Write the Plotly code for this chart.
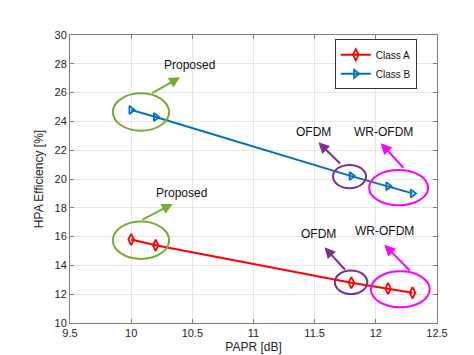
import plotly.graph_objects as go

papr = [10.0, 10.2, 11.8, 12.1, 12.3]
eff_a = [15.8, 15.4, 12.8, 12.4, 12.1]
eff_b = [24.8, 24.3, 20.2, 19.5, 19.0]

# ellipses: (x0, x1, y0, y1, color)
ellipses = [
    (9.85, 10.31, 23.35, 25.95, "#77AC30"),
    (9.85, 10.31, 14.45, 17.05, "#77AC30"),
    (11.65, 11.92, 19.36, 20.98, "#7E2F8E"),
    (11.665, 11.93, 12.01, 13.65, "#7E2F8E"),
    (11.945, 12.427, 18.17, 20.63, "#FF00FF"),
    (11.96, 12.44, 11.09, 13.59, "#FF00FF"),
]
# arrows: (tail_x, tail_y, head_x, head_y, color)
arrows = [
    (10.16, 25.9, 10.40, 27.07, "#77AC30"),
    (10.08, 17.13, 10.34, 18.27, "#77AC30"),
    (11.72, 20.98, 11.53, 22.55, "#7E2F8E"),
    (11.76, 13.59, 11.58, 15.26, "#7E2F8E"),
    (12.237, 20.68, 12.04, 22.48, "#FF00FF"),
    (12.29, 13.54, 12.07, 15.43, "#FF00FF"),
]
labels = [
    (10.48, 27.9, "Proposed"),
    (10.41, 19.02, "Proposed"),
    (11.49, 23.29, "OFDM"),
    (12.06, 23.29, "WR-OFDM"),
    (11.53, 16.17, "OFDM"),
    (12.07, 16.36, "WR-OFDM"),
]

fig = go.Figure()
fig.add_trace(go.Scatter(x=papr, y=eff_a, mode="lines+markers", name="Class A",
                         line=dict(color="#FF0000", width=2),
                         marker=dict(symbol="diamond-tall-open", size=8, color="#FF0000",
                                     line=dict(width=1.8, color="#FF0000"))))
fig.add_trace(go.Scatter(x=papr, y=eff_b, mode="lines+markers", name="Class B",
                         line=dict(color="#0072BD", width=2),
                         marker=dict(symbol="triangle-right-open", size=7, color="#0072BD",
                                     line=dict(width=1.8, color="#0072BD"))))

for x0, x1, y0, y1, c in ellipses:
    fig.add_shape(type="circle", xref="x", yref="y", x0=x0, x1=x1, y0=y0, y1=y1,
                  line=dict(color=c, width=2))
for tx, ty, hx, hy, c in arrows:
    fig.add_annotation(x=hx, y=hy, ax=tx, ay=ty, xref="x", yref="y", axref="x", ayref="y",
                       showarrow=True, arrowhead=2, arrowsize=1.1, arrowwidth=2,
                       arrowcolor=c, text="")
for x, y, t in labels:
    fig.add_annotation(x=x, y=y, xref="x", yref="y", text=t, showarrow=False,
                       font=dict(size=12, color="#111111"))

axis_common = dict(showgrid=True, gridcolor="#E6E6E6", gridwidth=1, showline=True,
                   linecolor="#7F7F7F", linewidth=1, mirror="ticks", ticks="inside",
                   ticklen=4, tickcolor="#7F7F7F", zeroline=False,
                   tickfont=dict(size=11, color="#262626"))
fig.update_xaxes(range=[9.5, 12.5], dtick=0.5, title=dict(text="PAPR [dB]", standoff=4,
                 font=dict(size=12, color="#262626")), **axis_common)
fig.update_yaxes(range=[10, 30], dtick=2, title=dict(text="HPA Efficiency [%]", standoff=8,
                 font=dict(size=12, color="#262626")), **axis_common)

fig.update_layout(width=474, height=355, margin=dict(l=62, r=45, t=27, b=40),
                  plot_bgcolor="white", paper_bgcolor="white",
                  font=dict(family="Liberation Sans, Arial, sans-serif"),
                  legend=dict(x=0.945, y=0.985, xanchor="right", yanchor="top",
                              bgcolor="white", bordercolor="#333333", borderwidth=1,
                              font=dict(size=10, color="#111111"),
                              tracegroupgap=0, itemwidth=30))

fig.write_html("out.html")
